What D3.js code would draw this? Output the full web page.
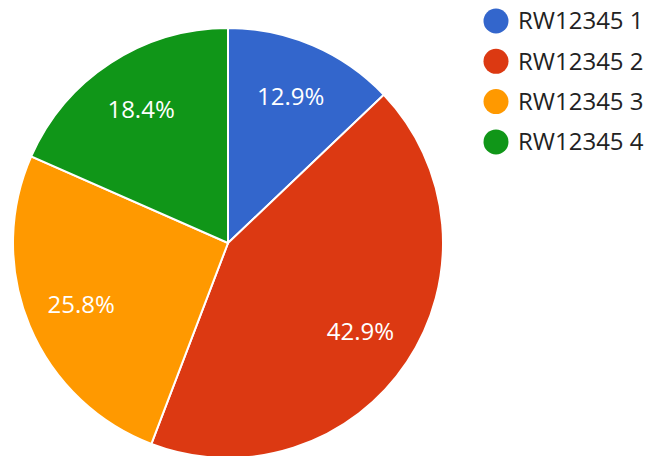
<!DOCTYPE html>
<html>
<head>
<meta charset="utf-8">
<script src="https://cdn.jsdelivr.net/npm/d3@7"></script>
<style>
  body { margin: 0; background: #fff; }
  svg { display: block; font-family: "Open Sans", "Noto Sans", sans-serif; }
</style>
</head>
<body>
<div id="chart"></div>
<script>
// slice data
var labels = ["RW12345 1", "RW12345 2", "RW12345 3", "RW12345 4"];
var values = [12.9, 42.9, 25.8, 18.4];
var colors = ["#3366cc", "#dc3912", "#ff9900", "#109618"];

var width = 650, height = 456;
var cx = 228, cy = 243, radius = 215;

var svg = d3.select("#chart").append("svg")
  .attr("width", width)
  .attr("height", height);

var datas = labels.map(function(l, i){ return {label: l, value: values[i], color: colors[i]}; });
var total = d3.sum(values);

var pie = d3.pie()
  .sort(null)
  .value(function(d){ return d.value; });

var arc = d3.arc()
  .innerRadius(0)
  .outerRadius(radius);

// labels sit about 3/4 of the way out
var labelArc = d3.arc()
  .innerRadius(radius * 0.74)
  .outerRadius(radius * 0.74);

var group = svg.append("g")
  .attr("transform", "translate(" + cx + "," + cy + ")");

var slices = pie(datas);

group.selectAll("path")
  .data(slices)
  .enter()
  .append("path")
  .attr("d", arc)
  .attr("fill", function(d){ return d.data.color; })
  .attr("stroke", "#fff")
  .attr("stroke-width", 2);

group.selectAll("text")
  .data(slices)
  .enter()
  .append("text")
  .attr("transform", function(d){ return "translate(" + labelArc.centroid(d) + ")"; })
  .attr("text-anchor", "middle")
  .attr("dy", "0.35em")
  .attr("fill", "#fff")
  .attr("font-size", 24)
  .text(function(d){ return (d.data.value / total * 100).toFixed(1) + "%"; });

// legend
var legend = svg.append("g")
  .attr("transform", "translate(496,21)");

var rows = legend.selectAll("g")
  .data(datas)
  .enter()
  .append("g")
  .attr("transform", function(d, i){ return "translate(0," + (i * 40.3) + ")"; });

rows.append("circle")
  .attr("r", 12.5)
  .attr("fill", function(d){ return d.color; });

rows.append("text")
  .attr("x", 22)
  .attr("dy", "0.35em")
  .attr("font-size", 24)
  .attr("fill", "#222")
  .text(function(d){ return d.label; });
</script>
</body>
</html>
